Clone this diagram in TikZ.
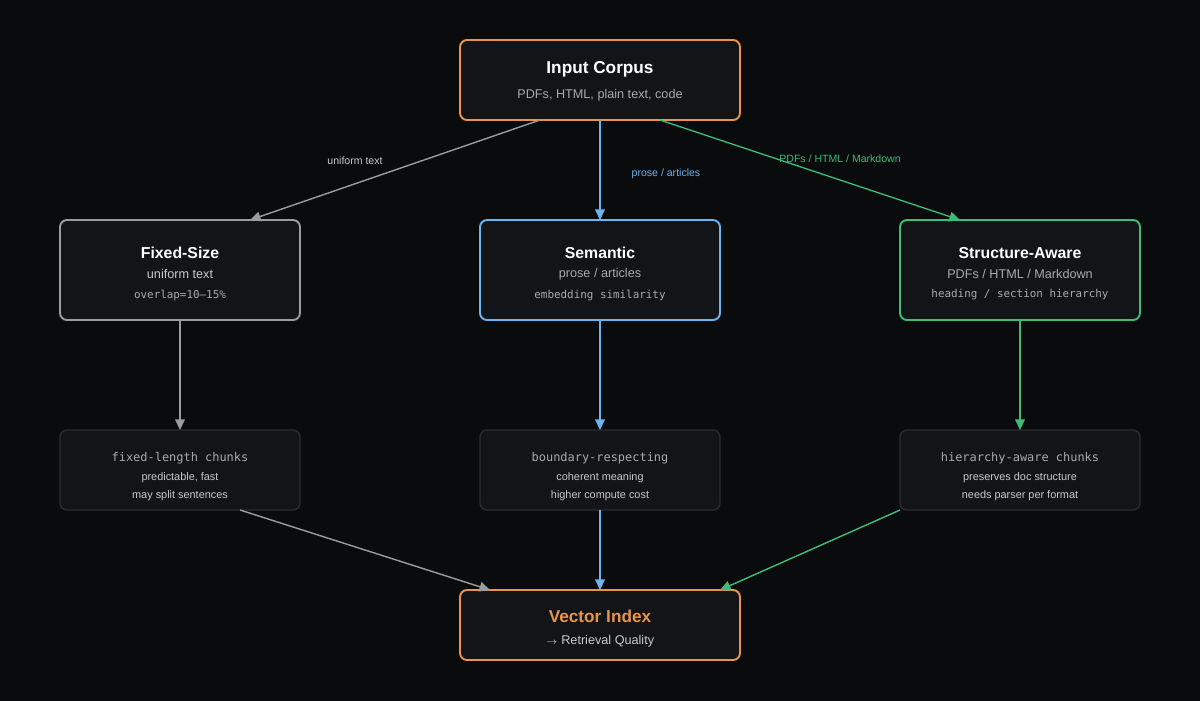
\documentclass[tikz,border=0pt]{standalone}
\usepackage{fontspec}
\setmainfont{Liberation Sans}
\newfontfamily\monof{DejaVu Sans Mono}
\usetikzlibrary{arrows.meta}
\definecolor{bg}{HTML}{0A0B0D}
\definecolor{boxf}{HTML}{131418}
\definecolor{corg}{HTML}{E8954A}
\definecolor{cgray}{HTML}{9A9CA0}
\definecolor{cblue}{HTML}{6CB4EE}
\definecolor{cgreen}{HTML}{3DBB78}
\definecolor{cdark}{HTML}{2A2C30}
\definecolor{tsub}{HTML}{A8AAAE}
\definecolor{tlt}{HTML}{C8CACE}
\tikzset{
 box/.style={line width=1.1pt, rounded corners=4pt, fill=boxf},
 ttl/.style={font=\bfseries\fontsize{9}{10}\selectfont, text=white},
 sub/.style={font=\fontsize{7.2}{8}\selectfont, text=tsub},
 sm/.style={font=\fontsize{6.2}{7}\selectfont, text=tlt},
 mono/.style={font=\monof\fontsize{6.2}{7}\selectfont, text=tsub},
 arr/.style={line width=0.8pt, -{Triangle[length=6pt,width=5.5pt]}},
 lbl/.style={font=\fontsize{6}{7}\selectfont},
}
\begin{document}
\begin{tikzpicture}[x=0.02cm,y=-0.02cm]
\useasboundingbox (0,0) rectangle (1200,700);
\fill[bg] (-10,-10) rectangle (1210,710);
% boxes
\draw[box,draw=corg] (460,40) rectangle (740,120);
\node[ttl,font=\bfseries\fontsize{9.8}{11}\selectfont] (inT) at (600,69) {Input Corpus};
\node[sub] (inS) at (600,95) {PDFs, HTML, plain text, code};

\draw[box,draw=cgray] (60,220) rectangle (300,320);
\node[ttl] at (180,253) {Fixed-Size};
\node[sub,text=tlt] at (180,274) {uniform text};
\node[mono] at (180,295) {overlap=10–15\%};

\draw[box,draw=cblue] (480,220) rectangle (720,320);
\node[ttl] at (600,253) {Semantic};
\node[sub] at (600,274) {prose / articles};
\node[mono] at (600,295) {embedding similarity};

\draw[box,draw=cgreen] (900,220) rectangle (1140,320);
\node[ttl] at (1020,253) {Structure-Aware};
\node[sub] at (1020,274) {PDFs / HTML / Markdown};
\node[mono] at (1020,295) {heading / section hierarchy};

\draw[box,draw=cdark,line width=0.8pt] (60,430) rectangle (300,510);
\node[mono,font=\monof\fontsize{6.8}{8}\selectfont] at (180,458) {fixed-length chunks};
\node[sm] at (180,478) {predictable, fast};
\node[sm] at (180,496) {may split sentences};

\draw[box,draw=cdark,line width=0.8pt] (480,430) rectangle (720,510);
\node[mono,font=\monof\fontsize{6.8}{8}\selectfont] at (600,458) {boundary-respecting};
\node[sm] at (600,478) {coherent meaning};
\node[sm] at (600,496) {higher compute cost};

\draw[box,draw=cdark,line width=0.8pt] (900,430) rectangle (1140,510);
\node[mono,font=\monof\fontsize{6.8}{8}\selectfont] at (1020,458) {hierarchy-aware chunks};
\node[sm] at (1020,478) {preserves doc structure};
\node[sm] at (1020,496) {needs parser per format};

\draw[box,draw=corg] (460,590) rectangle (740,660);
\node[ttl,text=corg,font=\bfseries\fontsize{9.8}{11}\selectfont] at (600,616) {Vector Index};
\node[sub,text=tlt] at (600,641) {{\tiny$\rightarrow$} Retrieval Quality};

% connectors
\coordinate (a1) at (540,120); \coordinate (b1) at (250,220);
\coordinate (a2) at (600,120); \coordinate (b2) at (600,220);
\coordinate (a3) at (660,120); \coordinate (b3) at (960,220);
\draw[arr,cgray] (a1) -- (b1);
\draw[arr,cblue] (a2) -- (b2);
\draw[arr,cgreen] (a3) -- (b3);
\node[lbl,text=tlt] at (355,161) {uniform text};
\node[lbl,text=cblue] at (666,174) {prose / articles};
\node[lbl,text=cgreen] at (840,159) {PDFs / HTML / Markdown};

\coordinate (c1) at (180,320); \coordinate (d1) at (180,430);
\coordinate (c2) at (600,320); \coordinate (d2) at (600,430);
\coordinate (c3) at (1020,320); \coordinate (d3) at (1020,430);
\draw[arr,cgray] (c1) -- (d1);
\draw[arr,cblue] (c2) -- (d2);
\draw[arr,cgreen] (c3) -- (d3);

\coordinate (e1) at (240,510); \coordinate (f1) at (490,590);
\coordinate (e2) at (600,510); \coordinate (f2) at (600,590);
\coordinate (e3) at (900,510); \coordinate (f3) at (720,590);
\draw[arr,cgray] (e1) -- (f1);
\draw[arr,cblue] (e2) -- (f2);
\draw[arr,cgreen] (e3) -- (f3);
\end{tikzpicture}
\end{document}
